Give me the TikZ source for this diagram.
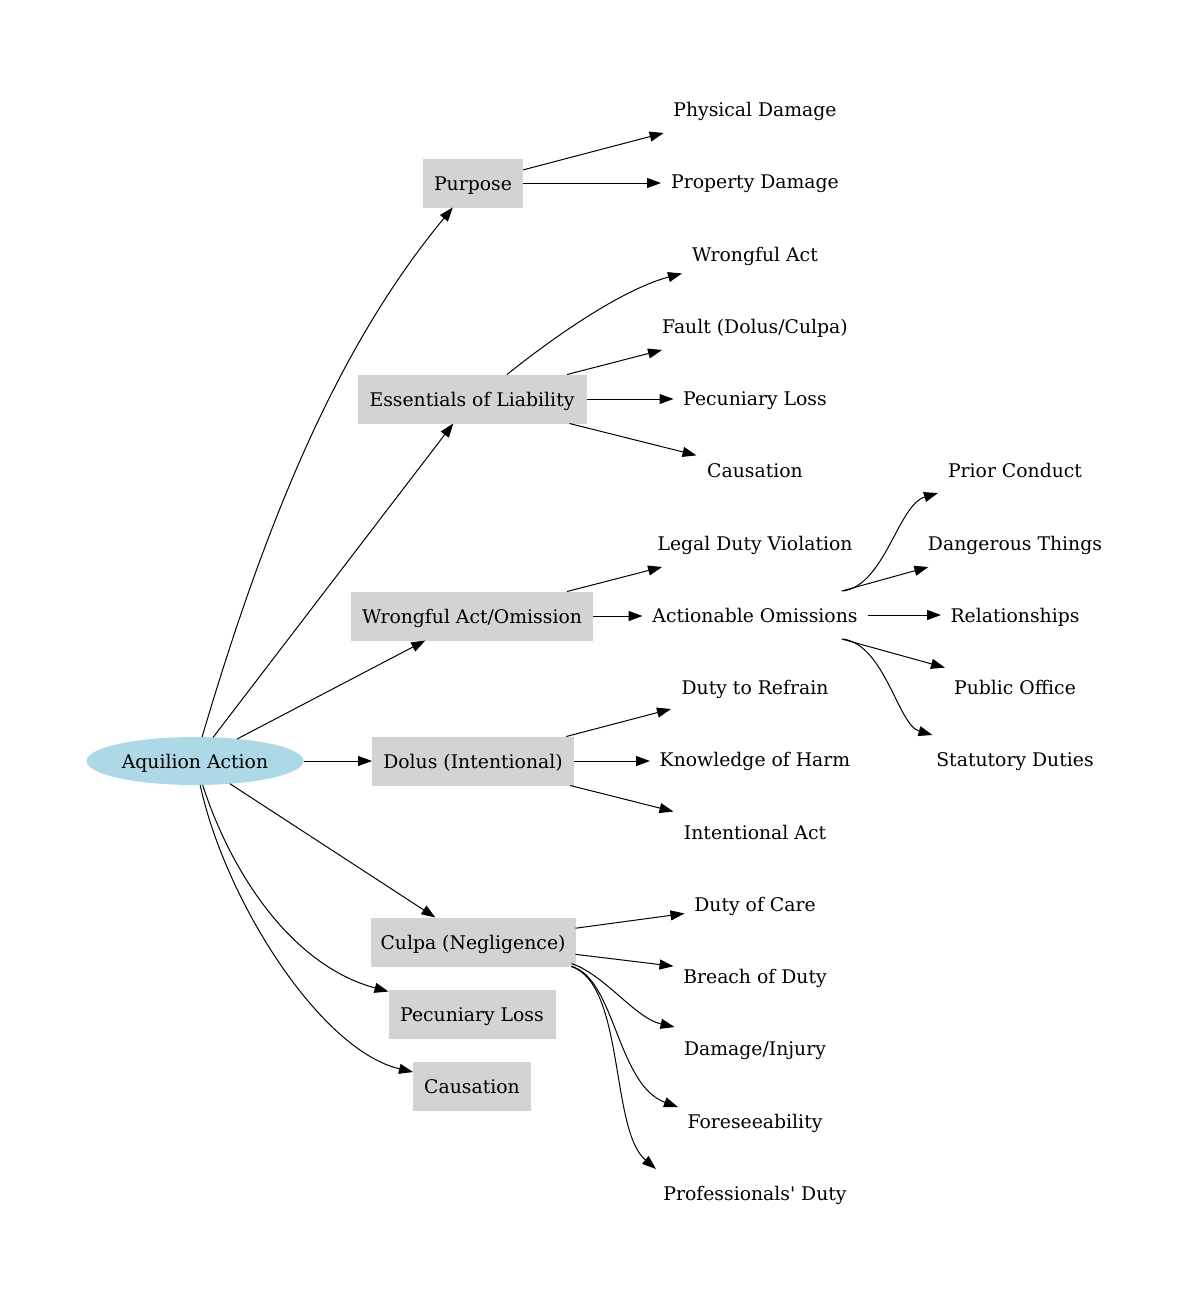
\documentclass[tikz,border=0pt]{standalone}
\usepackage{fontspec}
\setmainfont{DejaVu Serif}
\usetikzlibrary{arrows.meta,shapes.geometric}
\definecolor{boxgray}{HTML}{D3D3D3}
\definecolor{ellblue}{HTML}{ADD8E6}
\begin{document}
\begin{tikzpicture}[x=1pt,y=-1pt,
  lbl/.style={font=\fontsize{18.8}{22}\selectfont, text height=15.5pt, text depth=0pt},
  box/.style={lbl, rectangle, fill=boxgray, minimum height=49pt, inner sep=0pt, outer sep=0pt},
  leaf/.style={lbl, rectangle, minimum height=48pt, inner sep=0pt, outer sep=0pt},
  root/.style={lbl, ellipse, fill=ellblue, minimum width=217pt, minimum height=48pt, inner sep=0pt, outer sep=0pt},
  arr/.style={-{Triangle[length=14pt,width=10pt]}, line width=1pt, black}]
\useasboundingbox (0,0) rectangle (1200,1306);

% root
\node[root] (aq) at (195,761) {Aquilion Action};

% level 1 boxes
\node[box, minimum width=100pt] (purp) at (473,183) {Purpose};
\node[box, minimum width=229pt] (ess) at (472,399) {Essentials of Liability};
\node[box, minimum width=242pt] (wrong) at (472,616) {Wrongful Act/Omission};
\node[box, minimum width=202pt] (dolus) at (473,761) {Dolus (Intentional)};
\node[box, minimum width=205pt] (culpa) at (473,942) {Culpa (Negligence)};
\node[box, minimum width=167pt] (pec) at (472,1014) {Pecuniary Loss};
\node[box, minimum width=118pt] (caus) at (472,1086) {Causation};

% leaves
\node[leaf, minimum width=185pt] (phys) at (755,109) {Physical Damage};
\node[leaf, minimum width=188pt] (prop) at (755,181) {Property Damage};
\node[leaf, minimum width=146pt] (wact) at (755,254) {Wrongful Act};
\node[leaf, minimum width=204pt] (fault) at (755,326) {Fault (Dolus/Culpa)};
\node[leaf, minimum width=163pt] (epec) at (755,398) {Pecuniary Loss};
\node[leaf, minimum width=117pt] (ecaus) at (755,470) {Causation};
\node[leaf, minimum width=217pt] (legal) at (755,543) {Legal Duty Violation};
\node[leaf, minimum width=225pt] (omis) at (755,615) {Actionable Omissions};
\node[leaf, minimum width=168pt] (refr) at (755,687) {Duty to Refrain};
\node[leaf, minimum width=210pt] (know) at (755,759) {Knowledge of Harm};
\node[leaf, minimum width=163pt] (intent) at (755,832) {Intentional Act};
\node[leaf, minimum width=141pt] (care) at (755,904) {Duty of Care};
\node[leaf, minimum width=163pt] (breach) at (755,976) {Breach of Duty};
\node[leaf, minimum width=161pt] (dmg) at (755,1048) {Damage/Injury};
\node[leaf, minimum width=154pt] (fore) at (755,1121) {Foreseeability};
\node[leaf, minimum width=204pt] (prof) at (755,1193) {Professionals\textquotesingle{} Duty};
\node[leaf, minimum width=154pt] (prior) at (1015,470) {Prior Conduct};
\node[leaf, minimum width=194pt] (dang) at (1015,543) {Dangerous Things};
\node[leaf, minimum width=148pt] (rel) at (1015,615) {Relationships};
\node[leaf, minimum width=140pt] (pub) at (1015,687) {Public Office};
\node[leaf, minimum width=178pt] (stat) at (1015,759) {Statutory Duties};

% root edges
\draw[arr] (aq) .. controls (272,500) and (345,338) .. (purp);
\draw[arr] (aq) -- (ess);
\draw[arr] (aq) -- (wrong);
\draw[arr] (aq) -- (dolus);
\draw[arr] (aq) -- (culpa);
\draw[arr] (aq) .. controls (230,870) and (290,965) .. (pec);
\draw[arr] (aq) .. controls (225,900) and (320,1050) .. (caus);

% purpose
\draw[arr] (purp) -- (phys);
\draw[arr] (purp) -- (purp -| prop.west);

% essentials
\draw[arr] ([xshift=35pt]ess.north) .. controls (550,340) and (620,290) .. (wact);
\draw[arr] (ess) -- (fault);
\draw[arr] (ess) -- (ess -| epec.west);
\draw[arr] (ess) -- (ecaus);

% wrongful
\draw[arr] (wrong) -- (legal);
\draw[arr] (wrong) -- (wrong -| omis.west);

% omissions
\draw[arr] ([xshift=88pt]omis.north) .. controls (885,585) and (898,505) .. (prior);
\draw[arr] (omis) -- (dang);
\draw[arr] (omis) -- (rel);
\draw[arr] (omis) -- (pub);
\draw[arr] ([xshift=88pt]omis.south) .. controls (885,645) and (898,725) .. (stat);

% dolus
\draw[arr] (dolus) -- (refr);
\draw[arr] (dolus) -- (dolus -| know.west);
\draw[arr] (dolus) -- (intent);

% culpa
\draw[arr] (culpa) -- (care);
\draw[arr] (culpa) -- (breach);
\draw[arr] ([xshift=-4pt,yshift=3pt]culpa.south east) .. controls (605,975) and (635,1018) .. ([yshift=-3pt]dmg.north west);
\draw[arr] ([xshift=-4pt]culpa.south east) .. controls (615,978) and (617,1085) .. ([yshift=14pt]fore.west);
\draw[arr] ([xshift=-4pt]culpa.south east) .. controls (625,985) and (610,1130) .. ([xshift=3pt]prof.north west);
\end{tikzpicture}
\end{document}
